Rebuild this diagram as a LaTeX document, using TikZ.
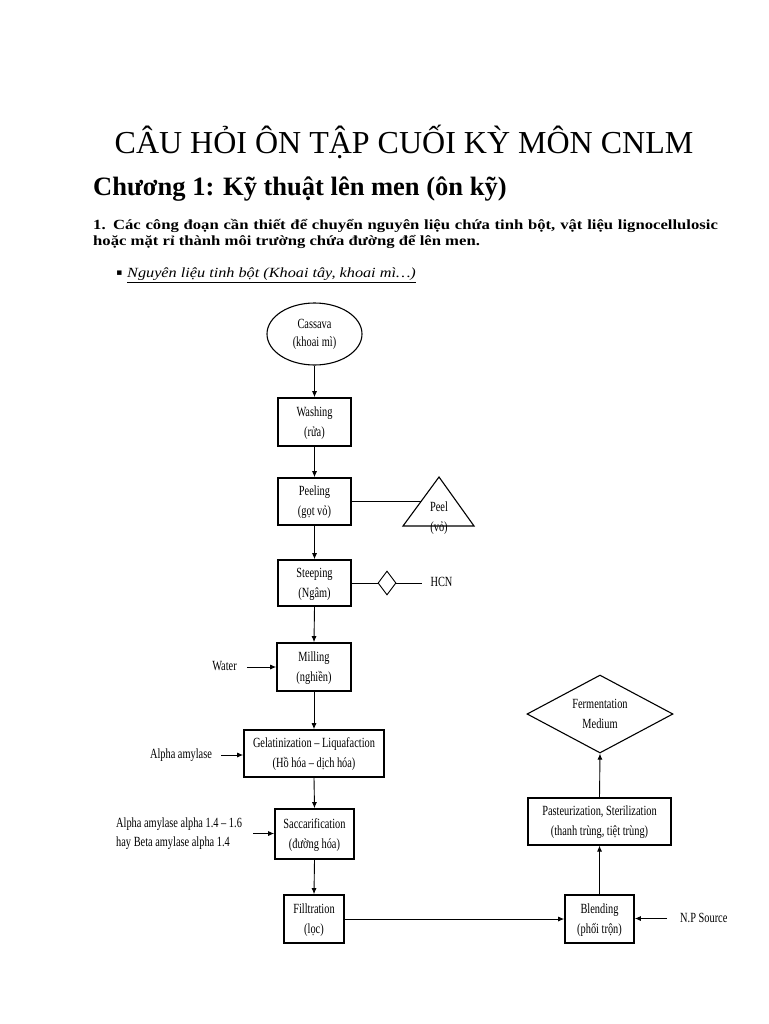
\documentclass[tikz,border=0pt]{standalone}
\usepackage{fontspec}
\setmainfont{Liberation Serif}
\newfontfamily\dvs{DejaVu Sans}
\usepackage{graphicx}
\usetikzlibrary{arrows.meta,shapes.geometric}
\newcommand\dtxt[1]{\scalebox{0.74}[1]{\begin{tabular}{@{}c@{}}#1\end{tabular}}}
\newcommand\ltxt[1]{\scalebox{0.74}[1]{\begin{tabular}{@{}l@{}}#1\end{tabular}}}
\begin{document}
\begin{tikzpicture}[x=1pt,y=-1pt,
  box/.style={draw, line width=1.6pt, inner sep=0pt, font=\fontsize{14}{20}\selectfont},
  thinbox/.style={box, line width=1.1pt},
  lbl/.style={inner sep=0pt, font=\fontsize{14}{19}\selectfont},
  conn/.style={line width=0.9pt},
  arr/.style={conn, -{Latex[length=6pt,width=5pt]}}]
\fill[white] (0,0) rectangle (768,1024);
\useasboundingbox (0,0) rectangle (768,1024);
% header
\node[anchor=base, inner sep=0pt, font=\fontsize{32}{38}\selectfont] (title) at (404,154) {CÂU HỎI ÔN TẬP CUỐI KỲ MÔN CNLM};
\node[anchor=base west, inner sep=0pt, font=\fontsize{26.5}{30}\selectfont\bfseries] (chuong) at (93,196) {Chương 1: Kỹ thuật lên men (ôn kỹ)};
\node[anchor=base west, inner sep=0pt, font=\fontsize{14}{16}\selectfont\bfseries] (p1) at (93,229.5) {\scalebox{1.19}[1]{\makebox[525pt][s]{1. Các công đoạn cần thiết để chuyển nguyên liệu chứa tinh bột, vật liệu lignocellulosic}}};
\node[anchor=base west, inner sep=0pt, font=\fontsize{14}{16}\selectfont\bfseries] (p2) at (93,245.5) {\scalebox{1.19}[1]{hoặc mặt rỉ thành môi trường chứa đường để lên men.}};
\node[inner sep=0pt, font=\fontsize{9}{9}\dvs] (bsq) at (119.5,273.5) {▪};
\node[anchor=base west, inner sep=0pt, font=\fontsize{14}{16}\selectfont\itshape] (bul) at (127,277.7) {\scalebox{1.16}[1]{Nguyên liệu tinh bột (Khoai tây, khoai mì…)}};
\draw[line width=0.7pt] ([yshift=-4.5pt]bul.base west) -- ([yshift=-4.5pt]bul.base east);
% flow nodes
\node[ellipse, draw, line width=1.1pt, inner sep=0pt, minimum width=95pt, minimum height=62pt, font=\fontsize{14}{18}\selectfont] (cass) at (314.5,334) {\dtxt{Cassava\\(khoai mì)}};
\node[box, minimum width=73pt, minimum height=48pt] (wash) at (314.5,422) {\dtxt{Washing\\(rửa)}};
\node[box, minimum width=73pt, minimum height=47pt] (peel) at (314.5,501.5) {\dtxt{Peeling\\(gọt vỏ)}};
\node[box, minimum width=73pt, minimum height=46pt] (steep) at (314.5,583) {\dtxt{Steeping\\(Ngâm)}};
\node[box, minimum width=74pt, minimum height=48pt] (mill) at (314,667) {\dtxt{Milling\\(nghiền)}};
\node[box, minimum width=140pt, minimum height=47pt] (gel) at (314,753.5) {\dtxt{Gelatinization – Liquafaction\\(Hồ hóa – dịch hóa)}};
\node[box, minimum width=79pt, minimum height=50pt] (sacc) at (314.5,834) {\dtxt{Saccarification\\(đường hóa)}};
\node[box, minimum width=60pt, minimum height=48pt] (filt) at (314,919) {\dtxt{Filltration\\(lọc)}};
\node[box, minimum width=69pt, minimum height=48pt] (blend) at (599.5,919) {\dtxt{Blending\\(phối trộn)}};
\node[thinbox, minimum width=143pt, minimum height=47pt] (past) at (599.5,821.5) {\dtxt{Pasteurization, Sterilization\\(thanh trùng, tiệt trùng)}};
\node[diamond, draw, line width=1.1pt, inner sep=0pt, aspect=1.87, minimum width=146pt, minimum height=78pt, font=\fontsize{14}{20}\selectfont] (ferm) at (600,714) {\dtxt{Fermentation\\Medium}};
% side items
\draw[line width=1.1pt, line join=miter] (439,477) -- (474,526) -- (403,526) -- cycle;
\node[lbl, font=\fontsize{14}{20}\selectfont] (peeltxt) at (439,517) {\dtxt{Peel\\(vỏ)}};
\coordinate (peelhit) at (420.6,501.5);
\node[diamond, draw, line width=0.9pt, inner sep=0pt, minimum width=18pt, minimum height=24pt, aspect=0.75] (hcnd) at (387,583) {};
\node[lbl] (hcn) at (441.5,583) {\dtxt{HCN}};
\node[lbl] (water) at (224.5,667) {\dtxt{Water}};
\node[lbl] (alpha) at (181,755) {\dtxt{Alpha amylase}};
\node[lbl, anchor=west] (alpha2) at (116,833.5) {\ltxt{Alpha amylase alpha 1.4 – 1.6\\hay Beta amylase alpha 1.4}};
\node[lbl, anchor=west] (np) at (680,918.5) {\dtxt{N.P Source}};
% connectors
\draw[arr] (cass.south) -- (wash.north);
\draw[arr] (wash.south) -- (peel.north);
\draw[arr] (peel.south) -- (steep.north);
\draw[arr] (steep.south) -- (mill.north);
\draw[arr] (mill.south) -- (gel.north);
\draw[arr] (gel.south) -- (sacc.north);
\draw[arr] (sacc.south) -- (filt.north);
\draw[conn] (peel.east) -- (peelhit);
\draw[conn] (steep.east) -- (hcnd.west);
\draw[conn] (hcnd.east) -- ([xshift=-8pt]hcn.west);
\draw[arr] ([xshift=10pt]water.east) -- (mill.west);
\draw[arr] ([xshift=9pt]alpha.east) -- (alpha.east -| gel.west);
\draw[arr] ([xshift=11pt]alpha2.east) -- (alpha2.east -| sacc.west);
\draw[arr] (filt.east) -- (blend.west);
\draw[arr] ([xshift=-13pt]np.west) -- (np.west -| blend.east);
\draw[arr] (blend.north) -- (past.south);
\draw[arr] (past.north) -- (ferm.south);
\end{tikzpicture}
\end{document}
